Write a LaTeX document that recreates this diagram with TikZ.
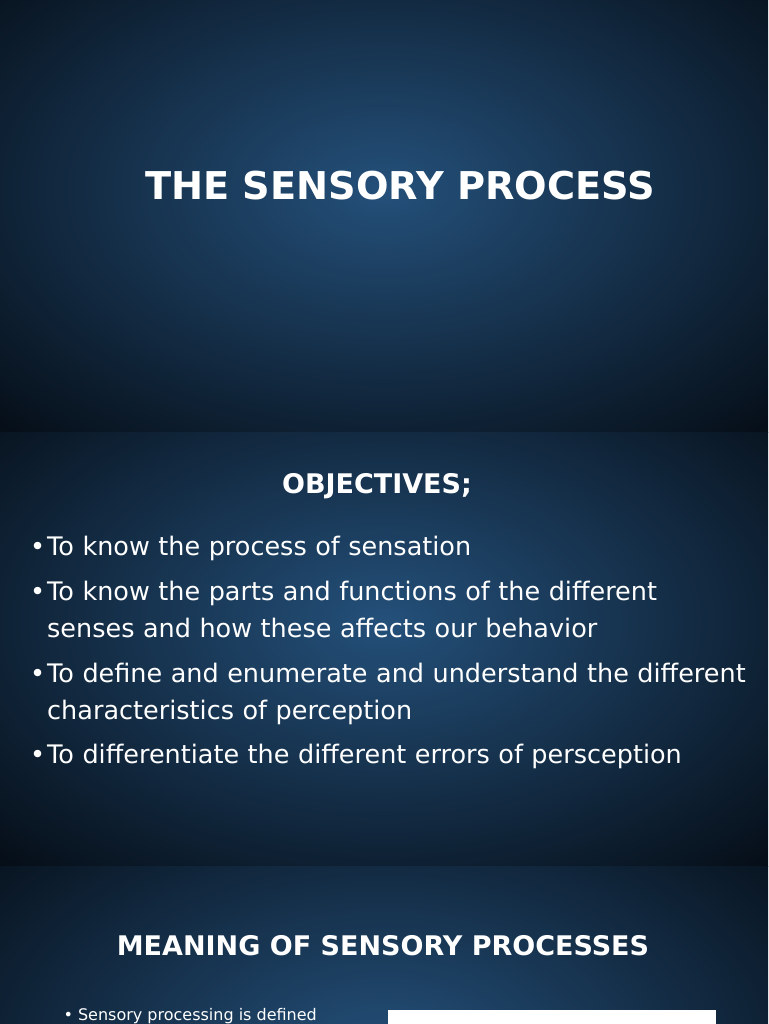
\documentclass[tikz,border=0pt]{standalone}
\usepackage{fontspec}
\setmainfont{DejaVu Sans}
\definecolor{slidemid}{HTML}{24507A}
\definecolor{slideedge}{HTML}{050D16}
\tikzset{
  slidetitle/.style={text=white,font=\bfseries\fontsize{38.3}{44}\selectfont},
  slidehead/.style={text=white,font=\bfseries\fontsize{27}{32}\selectfont},
  bulletline/.style={text=white,anchor=north west,align=left,text width=640pt,
    font=\fontsize{25.5}{37}\selectfont,inner sep=0pt},
  bulletdot/.style={text=white,anchor=north west,inner sep=0pt,text height=19.5pt,
    font=\fontsize{25.5}{37}\selectfont},
}
\begin{document}
\begin{tikzpicture}[x=1pt,y=-1pt]
  \useasboundingbox (0,0) rectangle (768,1024);
  % Slide backgrounds
  \foreach \top/\bot in {0/432,432/866,866/1300} {
    \begin{scope}
      \clip (0,\top) rectangle (768,\bot);
      \shade[inner color=slidemid,outer color=slideedge]
        (384,\top+190) ellipse (560 and 340);
    \end{scope}
  }
  % Slide 1
  \node[slidetitle] (title) at (400,186) {THE SENSORY PROCESS};
  % Slide 2
  \node[slidehead] (obj) at (377,486) {OBJECTIVES;};
  \node[bulletdot] (b1) at (30,536) {•};
  \node[bulletline] (t1) at (47,536) {To know the process of sensation};
  \node[bulletdot] (b2) at (30,581) {•};
  \node[bulletline] (t2) at (47,581) {To know the parts and functions of the different senses and how these affects our behavior};
  \node[bulletdot] (b3) at (30,663) {•};
  \node[bulletline,text width=720pt] (t3) at (47,663) {To define and enumerate and understand the different\\characteristics of perception};
  \node[bulletdot] (b4) at (30,744) {•};
  \node[bulletline] (t4) at (47,744) {To differentiate the different errors of persception};
  % Slide 3
  \node[slidehead] (meaning) at (383,946) {MEANING OF SENSORY PROCESSES};
  \node[text=white,font=\fontsize{16}{19}\selectfont,anchor=west] (s1) at (60,1016) {•\ Sensory processing is defined};
  \fill[white] (388,1010) rectangle (716,1030);
\end{tikzpicture}
\end{document}
